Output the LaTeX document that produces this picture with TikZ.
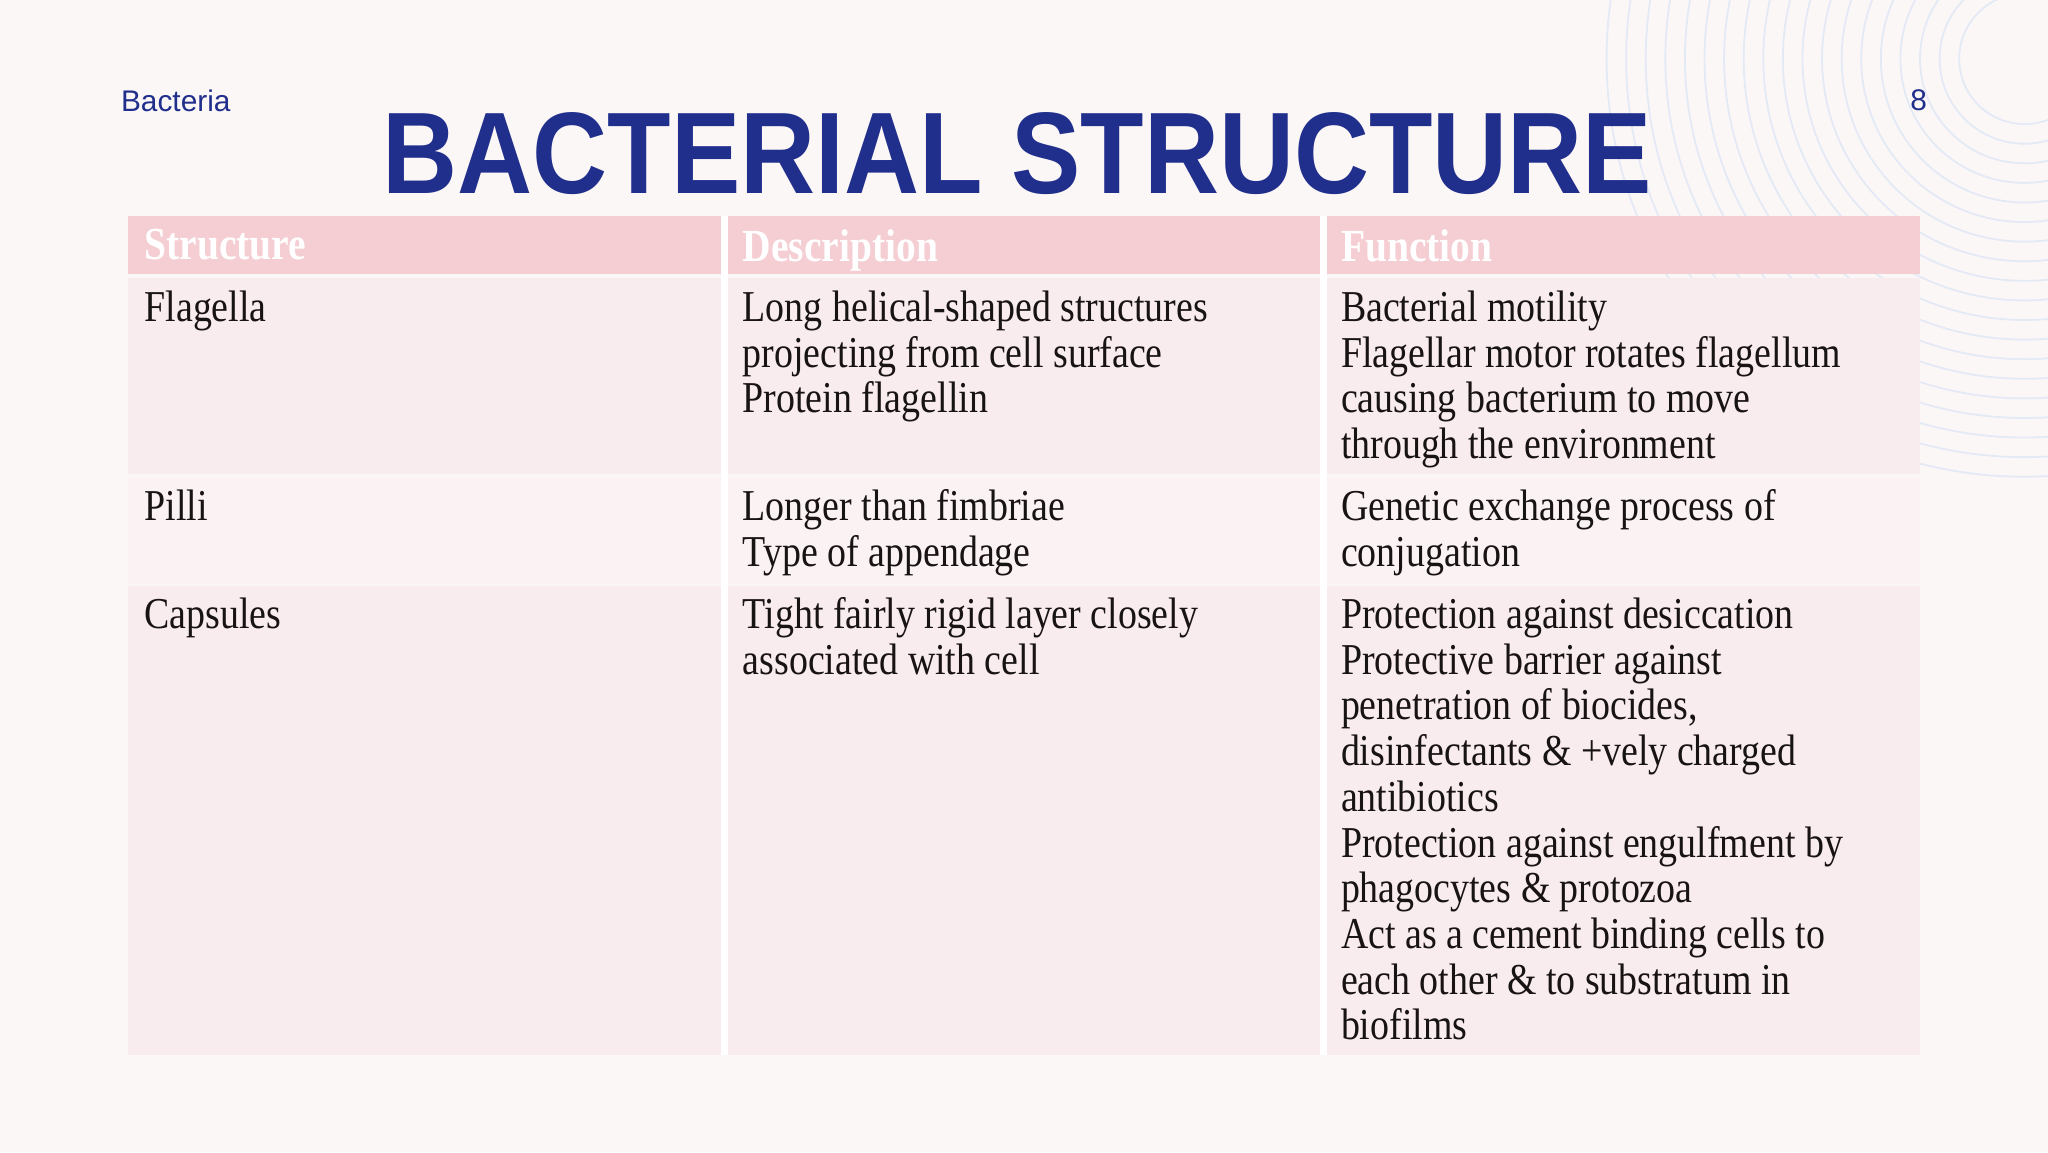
\documentclass[tikz,border=0pt]{standalone}
\usepackage{fontspec}
\setmainfont{Liberation Serif}[FakeStretch=0.86]
\newfontfamily\hsans{Liberation Sans}
\definecolor{bg}{RGB}{252,247,247}
\definecolor{navy}{RGB}{32,46,140}
\definecolor{hdr}{RGB}{245,206,211}
\definecolor{rowa}{RGB}{249,236,238}
\definecolor{rowb}{RGB}{251,242,243}
\definecolor{deco}{RGB}{228,234,245}
\definecolor{txt}{RGB}{25,20,20}
\tikzset{
 cell/.style={anchor=north west,inner sep=0pt,align=left,font=\fontsize{9.6}{9.96}\selectfont,text=txt},
 head/.style={anchor=north west,inner sep=0pt,font=\fontsize{10}{11}\selectfont\bfseries,text=white},
}
\begin{document}
\begin{tikzpicture}[x=1cm,y=-1cm]
\useasboundingbox (0,0) rectangle (15.68,8.82);
\fill[bg] (0,0) rectangle (15.68,8.82);
\begin{scope}
\clip (0,0) rectangle (15.68,8.82);
\foreach \r in {0.5,0.65,...,3.2} \draw[deco,line width=0.4pt] (15.5,0.45) circle (\r);
\end{scope}
\fill[hdr] (0.98,1.65) rectangle (14.70,2.10);
\fill[rowa] (0.98,2.13) rectangle (14.70,3.63);
\fill[rowb] (0.98,3.65) rectangle (14.70,4.47);
\fill[rowa] (0.98,4.49) rectangle (14.70,8.08);
\draw[white,line width=1.5pt] (5.55,1.65) -- (5.55,8.08) (10.13,1.65) -- (10.13,8.08);
\node[anchor=west,inner sep=0pt,text=navy,font=\hsans\fontsize{6.5}{7}\selectfont] (lbl) at (0.92,0.77) {Bacteria};
\node[anchor=east,inner sep=0pt,text=navy,font=\hsans\fontsize{6.5}{7}\selectfont] (pg) at (14.76,0.77) {8};
\node[anchor=south,inner sep=0pt,text=navy] (title) at (7.79,1.50) {\resizebox{9.72cm}{0.62cm}{\hsans\bfseries BACTERIAL STRUCTURE}};
\node[head] (h1) at (1.10,1.75) {Structure};
\node[head] (h2) at (5.68,1.75) {Description};
\node[head] (h3) at (10.26,1.75) {Function};
\node[cell] (a1) at (1.10,2.22) {Flagella};
\node[cell] (a2) at (5.68,2.22) {Long helical-shaped structures\\projecting from cell surface\\Protein flagellin};
\node[cell] (a3) at (10.26,2.22) {Bacterial motility\\Flagellar motor rotates flagellum\\causing bacterium to move\\through the environment};
\node[cell] (b1) at (1.10,3.74) {Pilli};
\node[cell] (b2) at (5.68,3.74) {Longer than fimbriae\\Type of appendage};
\node[cell] (b3) at (10.26,3.74) {Genetic exchange process of\\conjugation};
\node[cell] (c1) at (1.10,4.57) {Capsules};
\node[cell] (c2) at (5.68,4.57) {Tight fairly rigid layer closely\\associated with cell};
\node[cell] (c3) at (10.26,4.57) {Protection against desiccation\\Protective barrier against\\penetration of biocides,\\disinfectants \& +vely charged\\antibiotics\\Protection against engulfment by\\phagocytes \& protozoa\\Act as a cement binding cells to\\each other \& to substratum in\\biofilms};
\end{tikzpicture}
\end{document}
